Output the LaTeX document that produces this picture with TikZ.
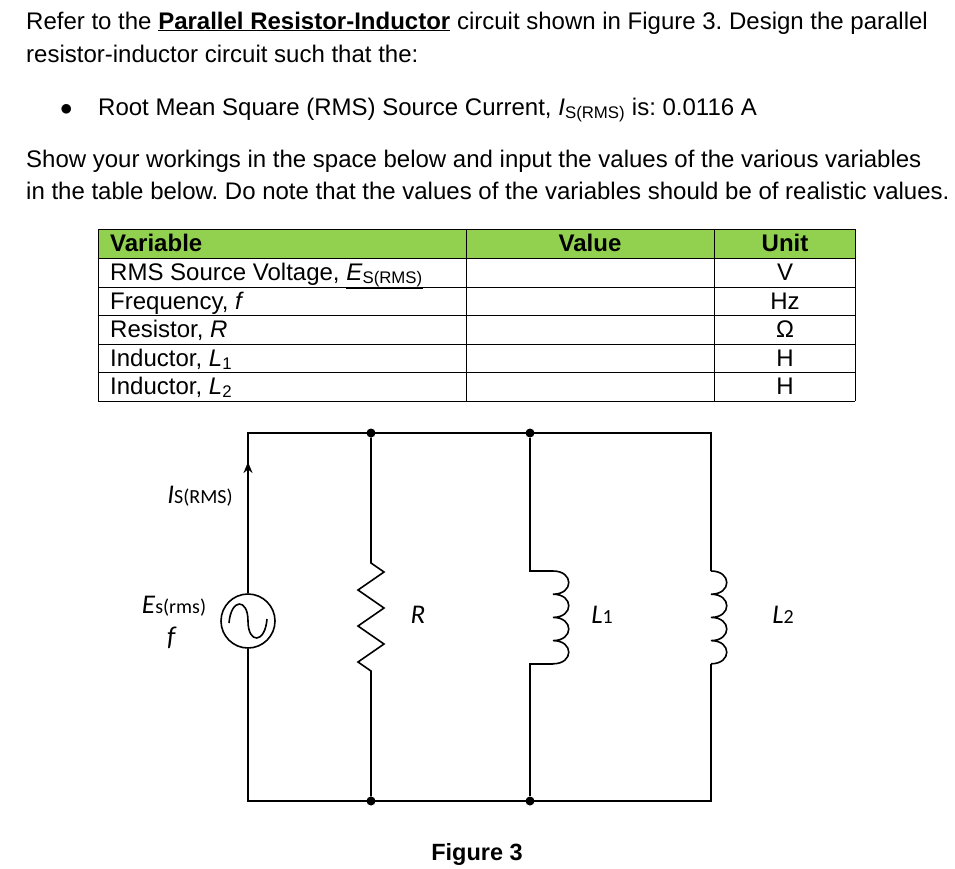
\documentclass[tikz,border=0pt]{standalone}
\usepackage{fontspec}
\setmainfont{Liberation Sans}
\newfontfamily\calfont{Carlito}
\usetikzlibrary{arrows.meta}
\definecolor{hdr}{HTML}{92D050}
\frenchspacing
\tikzset{wire/.style={line width=1.6pt},
 txt/.style={anchor=base west,inner sep=0,font=\fontsize{24}{28}\selectfont},
 tab/.style={anchor=base west,inner sep=0,font=\fontsize{24}{28}\selectfont},
 tabc/.style={anchor=base,inner sep=0,font=\fontsize{24}{28}\selectfont},
 lab/.style={inner sep=0,font=\calfont\fontsize{27}{30}\selectfont},
 jn/.style={circle,fill,inner sep=0,minimum size=9pt}}
\newcommand\bumps[2]{% x, y top
  (#1,#2) .. controls (#1+21,#2) and (#1+21,#2+23.2) .. (#1,#2+23.2)
  .. controls (#1+21,#2+23.2) and (#1+21,#2+46.4) .. (#1,#2+46.4)
  .. controls (#1+21,#2+46.4) and (#1+21,#2+69.6) .. (#1,#2+69.6)
  .. controls (#1+21,#2+69.6) and (#1+21,#2+92.8) .. (#1,#2+92.8)}
\begin{document}
\begin{tikzpicture}[x=1pt,y=-1pt]
\useasboundingbox[fill=white] (0,0) rectangle (955,868);
\node[txt] (t1) at (26,29) {Refer to the \textbf{\underline{Parallel Resistor-Inductor}} circuit shown in Figure 3. Design the parallel};
\node[txt] (t2) at (26,62) {resistor-inductor circuit such that the:};
\node[txt] (b) at (60,115) {$\bullet$};
\node[txt] (t3) at (98,115) {Root Mean Square (RMS) Source Current, \textit{I}\textsubscript{S(RMS)} is: 0.0116 A};
\node[txt] (t4) at (26,167) {Show your workings in the space below and input the values of the various variables};
\node[txt] (t5) at (26,199) {in the table below. Do note that the values of the variables should be of realistic values.};
% table
\fill[hdr] (98,229) rectangle (855,258);
\foreach \y in {229,258,287,315,344,372,401} \draw[line width=0.8pt] (98,\y) -- (855,\y);
\foreach \x in {98,466,714,855} \draw[line width=0.8pt] (\x,229) -- (\x,401);
\node[tab] (h1) at (110,251) {\textbf{Variable}};
\node[tabc] (h2) at (590,251) {\textbf{Value}};
\node[tabc] (h3) at (785,251) {\textbf{Unit}};
\node[tab] (r1) at (110,280) {RMS Source Voltage, \underline{\textit{E}\textsubscript{S(RMS)}}};
\node[tab] (r2) at (110,309) {Frequency, \textit{f}};
\node[tab] (r3) at (110,337) {Resistor, \textit{R}};
\node[tab] (r4) at (110,366) {Inductor, \textit{L}\textsubscript{1}};
\node[tab] (r5) at (110,394) {Inductor, \textit{L}\textsubscript{2}};
\node[tabc] (u1) at (785,280) {V};
\node[tabc] (u2) at (785,309) {Hz};
\node[tabc] (u3) at (785,337) {Ω};
\node[tabc] (u4) at (785,366) {H};
\node[tabc] (u5) at (785,394) {H};
% circuit
\coordinate (TL) at (248,433); \coordinate (TR) at (711,433);
\coordinate (BL) at (248,801); \coordinate (BR) at (711,801);
\node[jn] (j1) at (371,433) {}; \node[jn] (j2) at (530,433) {};
\node[jn] (j3) at (371,801) {}; \node[jn] (j4) at (530,801) {};
\node[circle,draw,line width=1.6pt,minimum size=54pt,inner sep=0] (src) at (248,621) {};
\draw[wire] (src.north) -- (TL) -- (TR) -- (711,571);
\draw[wire] (src.south) -- (BL) -- (BR) -- (711,664);
\draw[wire] (229,623) .. controls (231,598) and (248,598) .. (248,621) .. controls (248,644) and (265,644) .. (267,619);
\draw[-{Stealth[length=11pt,width=9pt]},line width=1.6pt] (248,500) -- (248,462);
% resistor
\draw[wire] (j1) -- (371,563) -- (384,572) -- (358,590) -- (384,608) -- (358,626) -- (384,644) -- (358,662) -- (371,671) -- (j3);
% L1
\draw[wire] (j2) -- (530,571) -- (553,571);
\draw[wire] \bumps{553}{571};
\draw[wire] (553,663.8) -- (530,663.8) -- (j4);
% L2
\draw[wire] \bumps{711}{571};
\node[lab,anchor=base] (li) at (200,503) {\textit{I}\fontsize{20}{22}\selectfont S(RMS)};
\node[lab,anchor=base] (le) at (174,613) {\textit{E}\fontsize{20}{22}\selectfont s(rms)};
\node[lab,anchor=base] (lf) at (172,645) {\textit{f}};
\node[lab,anchor=base] (lr) at (418,623) {\textit{R}};
\node[lab,anchor=base] (l1) at (602,623) {\textit{L}\fontsize{20}{22}\selectfont 1};
\node[lab,anchor=base] (l2) at (783,623) {\textit{L}\fontsize{20}{22}\selectfont 2};
\node[txt,anchor=base,font=\fontsize{23.5}{28}\selectfont] (fig) at (477,860) {\textbf{Figure 3}};
\end{tikzpicture}
\end{document}
